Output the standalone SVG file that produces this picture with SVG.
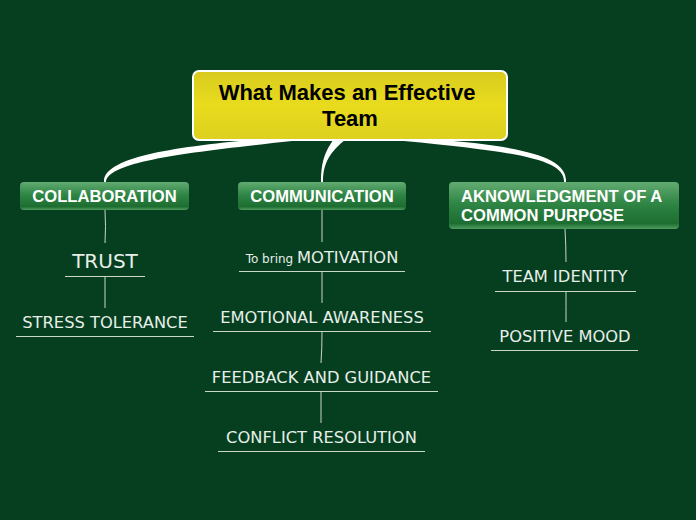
<svg xmlns="http://www.w3.org/2000/svg" width="696" height="520" viewBox="0 0 696 520">
<defs>
<linearGradient id="gY" x1="0" y1="0" x2="0" y2="1">
<stop offset="0" stop-color="#d8cb1f"/>
<stop offset="0.5" stop-color="#e9dc1e"/>
<stop offset="1" stop-color="#ddd01f"/>
</linearGradient>
<linearGradient id="gG" x1="0" y1="0" x2="0" y2="1">
<stop offset="0" stop-color="#62ab72"/>
<stop offset="0.45" stop-color="#2f8645"/>
<stop offset="0.88" stop-color="#1d6d31"/>
<stop offset="1" stop-color="#4f9c5e"/>
</linearGradient>
<style>
.main rect{fill:url(#gG);}
.main text{font-family:"Liberation Sans",Arial,sans-serif;font-weight:bold;font-size:16.6px;fill:#ffffff;}
.central text{font-family:"Liberation Sans",Arial,sans-serif;font-weight:bold;font-size:22px;fill:#000000;text-anchor:middle;}
.sub text{font-family:"DejaVu Sans",Verdana,sans-serif;font-size:16.3px;fill:#e8eee8;text-anchor:middle;}
.sub line{stroke:#c9d6c9;stroke-width:1;}
.thin{fill:none;stroke:#c9d6c9;stroke-width:1;}
.thick{fill:#ffffff;stroke:none;}
</style>
</defs>
<rect x="0" y="0" width="696" height="520" fill="#053f20"/>
<g id="connectors">
<path class="thick" d="M 262 139 C 170 147, 103 158, 104 182 L 106 182 C 108 162, 180 153, 292 141 Z"/>
<path class="thick" d="M 334 139 C 326 150, 321 160, 321 182 L 323 182 C 323 163, 330 152, 346 139 Z"/>
<path class="thick" d="M 404 141 C 520 152, 565 160, 564 182 L 566 182 C 568 156, 520 146, 430 139 Z"/>
<path class="thin" d="M 105 210 Q 106 226 105 243"/>
<path class="thin" d="M 105 277 L 105 308"/>
<path class="thin" d="M 322 210 L 322 242"/>
<path class="thin" d="M 322 272 L 322 303"/>
<path class="thin" d="M 322 332 Q 322 348 321 363"/>
<path class="thin" d="M 321 392 L 321 423"/>
<path class="thin" d="M 565 229 Q 566 246 566 262"/>
<path class="thin" d="M 566 292 Q 566 306 566 322"/>
</g>
<g id="central" class="central">
<rect x="193" y="71" width="314" height="69" rx="6" fill="url(#gY)" stroke="#ffffff" stroke-width="2"/>
<text x="347" y="100">What Makes an Effective</text>
<text x="350" y="126">Team</text>
</g>
<g id="collaboration" class="main">
<rect x="20" y="182" width="169" height="28" rx="4"/>
<text x="104.5" y="202" text-anchor="middle">COLLABORATION</text>
</g>
<g id="communication" class="main">
<rect x="238" y="182" width="168" height="28" rx="4"/>
<text x="322" y="202" text-anchor="middle">COMMUNICATION</text>
</g>
<g id="aknowledgment" class="main">
<rect x="449" y="182" width="230" height="47" rx="4"/>
<text x="461" y="202">AKNOWLEDGMENT OF A</text>
<text x="461" y="221">COMMON PURPOSE</text>
</g>
<g id="trust" class="sub">
<text x="105" y="268" style="font-size:20px">TRUST</text>
<line x1="65" y1="276.5" x2="145" y2="276.5"/>
</g>
<g id="stress" class="sub">
<text x="105" y="328">STRESS TOLERANCE</text>
<line x1="16" y1="336.5" x2="194" y2="336.5"/>
</g>
<g id="motivation" class="sub">
<text x="322" y="263"><tspan style="font-size:12px">To bring </tspan>MOTIVATION</text>
<line x1="239" y1="271.5" x2="405" y2="271.5"/>
</g>
<g id="emotional" class="sub">
<text x="322" y="323">EMOTIONAL AWARENESS</text>
<line x1="213" y1="331.5" x2="431" y2="331.5"/>
</g>
<g id="feedback" class="sub">
<text x="321.5" y="383">FEEDBACK AND GUIDANCE</text>
<line x1="205" y1="391.5" x2="438" y2="391.5"/>
</g>
<g id="conflict" class="sub">
<text x="321.5" y="443">CONFLICT RESOLUTION</text>
<line x1="218" y1="451.5" x2="425" y2="451.5"/>
</g>
<g id="identity" class="sub">
<text x="565" y="282">TEAM IDENTITY</text>
<line x1="495" y1="291.5" x2="636" y2="291.5"/>
</g>
<g id="mood" class="sub">
<text x="565" y="342">POSITIVE MOOD</text>
<line x1="491" y1="350.5" x2="638" y2="350.5"/>
</g>
</svg>
